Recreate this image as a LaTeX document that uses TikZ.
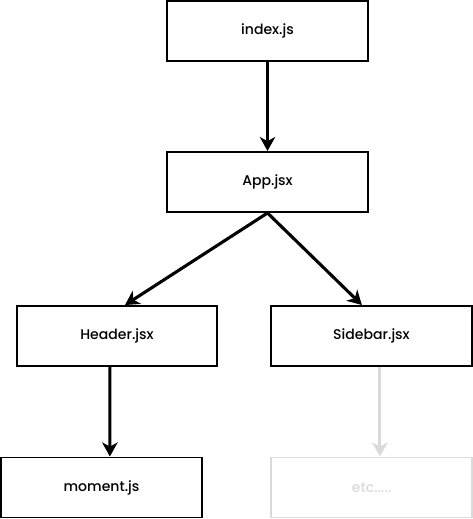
\documentclass[tikz,border=0pt]{standalone}
\usepackage{fontspec}
\setmainfont{Poppins}[UprightFont={* Medium}]
\usetikzlibrary{arrows.meta}
\definecolor{faded}{RGB}{218,218,218}
\tikzset{
  file/.style={draw, line width=1.4pt, minimum width=5cm, minimum height=1.5cm, font=\fontsize{10}{12}\selectfont},
  dep/.style={-{Stealth[length=10pt, width=11pt, inset=3pt]}, line width=2.2pt},
}
\begin{document}
\begin{tikzpicture}[x=0.025cm, y=-0.025cm]
  \useasboundingbox (0,0) rectangle (473,519);

  \begin{scope}
    \node[file] (index) at (267.5,31) {index.js};
    \node[file] (app) at (267.5,182) {App.jsx};
    \node[file] (header) at (117,336) {Header.jsx};
    \node[file] (sidebar) at (371.5,336) {Sidebar.jsx};
    \node[file] (moment) at (101.5,487.5) {moment.js};
    \node[file, draw=faded, text=faded] (etc) at (371.5,487.5) {etc.....};
  \end{scope}

  \begin{scope}
    \draw[dep] (index) -- (app);
    \draw[dep] (app.south) -- ([xshift=0.2cm]header.north);
    \draw[dep] (app.south) -- ([xshift=-0.24cm]sidebar.north);
    \draw[dep] ([xshift=-0.18cm]header.south) -- ([xshift=0.21cm]moment.north);
    \draw[dep, draw=faded, fill=faded] ([xshift=0.21cm]sidebar.south) -- ([xshift=0.21cm]etc.north);
  \end{scope}
\end{tikzpicture}
\end{document}
